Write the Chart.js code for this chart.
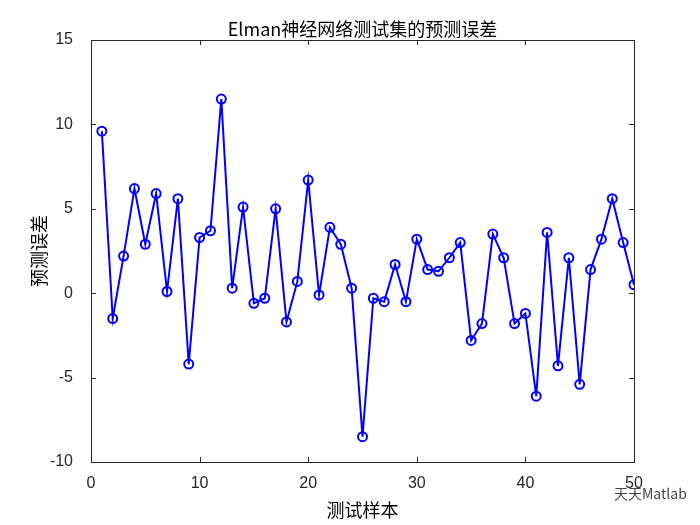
<!DOCTYPE html>
<html lang="zh">
<head>
<meta charset="UTF-8">
<script src="https://cdn.jsdelivr.net/npm/chart.js"></script>
<style>
  body { margin: 0; background: #fff; }
  #wrap { width: 700px; height: 525px; position: relative; }
</style>
</head>
<body>
<div id="wrap"><canvas id="c"></canvas></div>
<script>
    // sample index and prediction error
    const samples = Array.from({length: 50}, (_, i) => i + 1);
    const errors = [9.6, -1.5, 2.2, 6.2, 2.9, 5.9, 0.1, 5.6, -4.2, 3.3,
                    3.7, 11.5, 0.3, 5.1, -0.6, -0.3, 5.0, -1.7, 0.7, 6.7,
                    -0.1, 3.9, 2.9, 0.3, -8.5, -0.3, -0.5, 1.7, -0.5, 3.2,
                    1.4, 1.3, 2.1, 3.0, -2.8, -1.8, 3.5, 2.1, -1.8, -1.2,
                    -6.1, 3.6, -4.3, 2.1, -5.4, 1.4, 3.2, 5.6, 3.0, 0.5];
    const xTicks = [0, 10, 20, 30, 40, 50];
    const yTicks = [-10, -5, 0, 5, 10, 15];

    const font = "'Liberation Sans', Arial, sans-serif";
    const cjk = "'Noto Sans CJK SC', sans-serif";

    // MATLAB-style box, inward ticks, title and watermark
    const matlabBox = {
        id: 'matlabBox',
        afterDraw(chart) {
            const {ctx, chartArea: a, scales: {x, y}} = chart;
            ctx.save();
            ctx.strokeStyle = '#262626';
            ctx.lineWidth = 1;
            ctx.strokeRect(a.left + 0.5, a.top + 0.5, a.right - a.left, a.bottom - a.top);
            ctx.beginPath();
            xTicks.forEach(v => {
                const px = Math.round(x.getPixelForValue(v)) + 0.5;
                ctx.moveTo(px, a.bottom); ctx.lineTo(px, a.bottom - 5);
                ctx.moveTo(px, a.top); ctx.lineTo(px, a.top + 5);
            });
            yTicks.forEach(v => {
                const py = Math.round(y.getPixelForValue(v)) + 0.5;
                ctx.moveTo(a.left, py); ctx.lineTo(a.left + 5, py);
                ctx.moveTo(a.right, py); ctx.lineTo(a.right - 5, py);
            });
            ctx.stroke();
            ctx.fillStyle = '#000';
            ctx.font = '18px ' + cjk;
            ctx.textAlign = 'center';
            ctx.textBaseline = 'bottom';
            ctx.fillText('Elman神经网络测试集的预测误差', (a.left + a.right) / 2, a.top - 2);
            ctx.fillStyle = '#444';
            ctx.font = '14px ' + cjk;
            ctx.textAlign = 'left';
            ctx.textBaseline = 'middle';
            ctx.fillText('天天Matlab', 614, 494);
            ctx.restore();
        }
    };

    new Chart(document.getElementById('c'), {
        type: 'line',
        data: {
            datasets: [{
                data: samples.map((s, i) => ({x: s, y: errors[i]})),
                borderColor: '#0000ff',
                borderWidth: 2,
                pointRadius: 4.5,
                pointBorderWidth: 2,
                pointBackgroundColor: 'rgba(0,0,0,0)',
                pointBorderColor: '#0000ff',
                tension: 0
            }]
        },
        options: {
            responsive: true,
            maintainAspectRatio: false,
            animation: false,
            layout: {padding: {top: 40, right: 66, left: 24, bottom: 0}},
            plugins: {legend: {display: false}, tooltip: {enabled: false}},
            scales: {
                x: {
                    type: 'linear', min: 0, max: 50,
                    afterBuildTicks: s => { s.ticks = xTicks.map(v => ({value: v})); },
                    afterFit: s => { s.height = 63; },
                    grid: {display: false},
                    border: {display: false},
                    ticks: {color: '#262626', font: {family: font, size: 16}, padding: 4},
                    title: {display: true, text: '测试样本', color: '#000', font: {family: cjk, size: 18}, padding: {top: 0}}
                },
                y: {
                    min: -10, max: 15,
                    afterBuildTicks: s => { s.ticks = yTicks.map(v => ({value: v})); },
                    afterFit: s => { s.width = 67; },
                    grid: {display: false},
                    border: {display: false},
                    ticks: {color: '#262626', font: {family: font, size: 16}, padding: 10},
                    title: {display: true, text: '预测误差', color: '#000', font: {family: cjk, size: 18}, padding: {bottom: 2}}
                }
            }
        },
        plugins: [matlabBox]
    });
</script>
</body>
</html>
